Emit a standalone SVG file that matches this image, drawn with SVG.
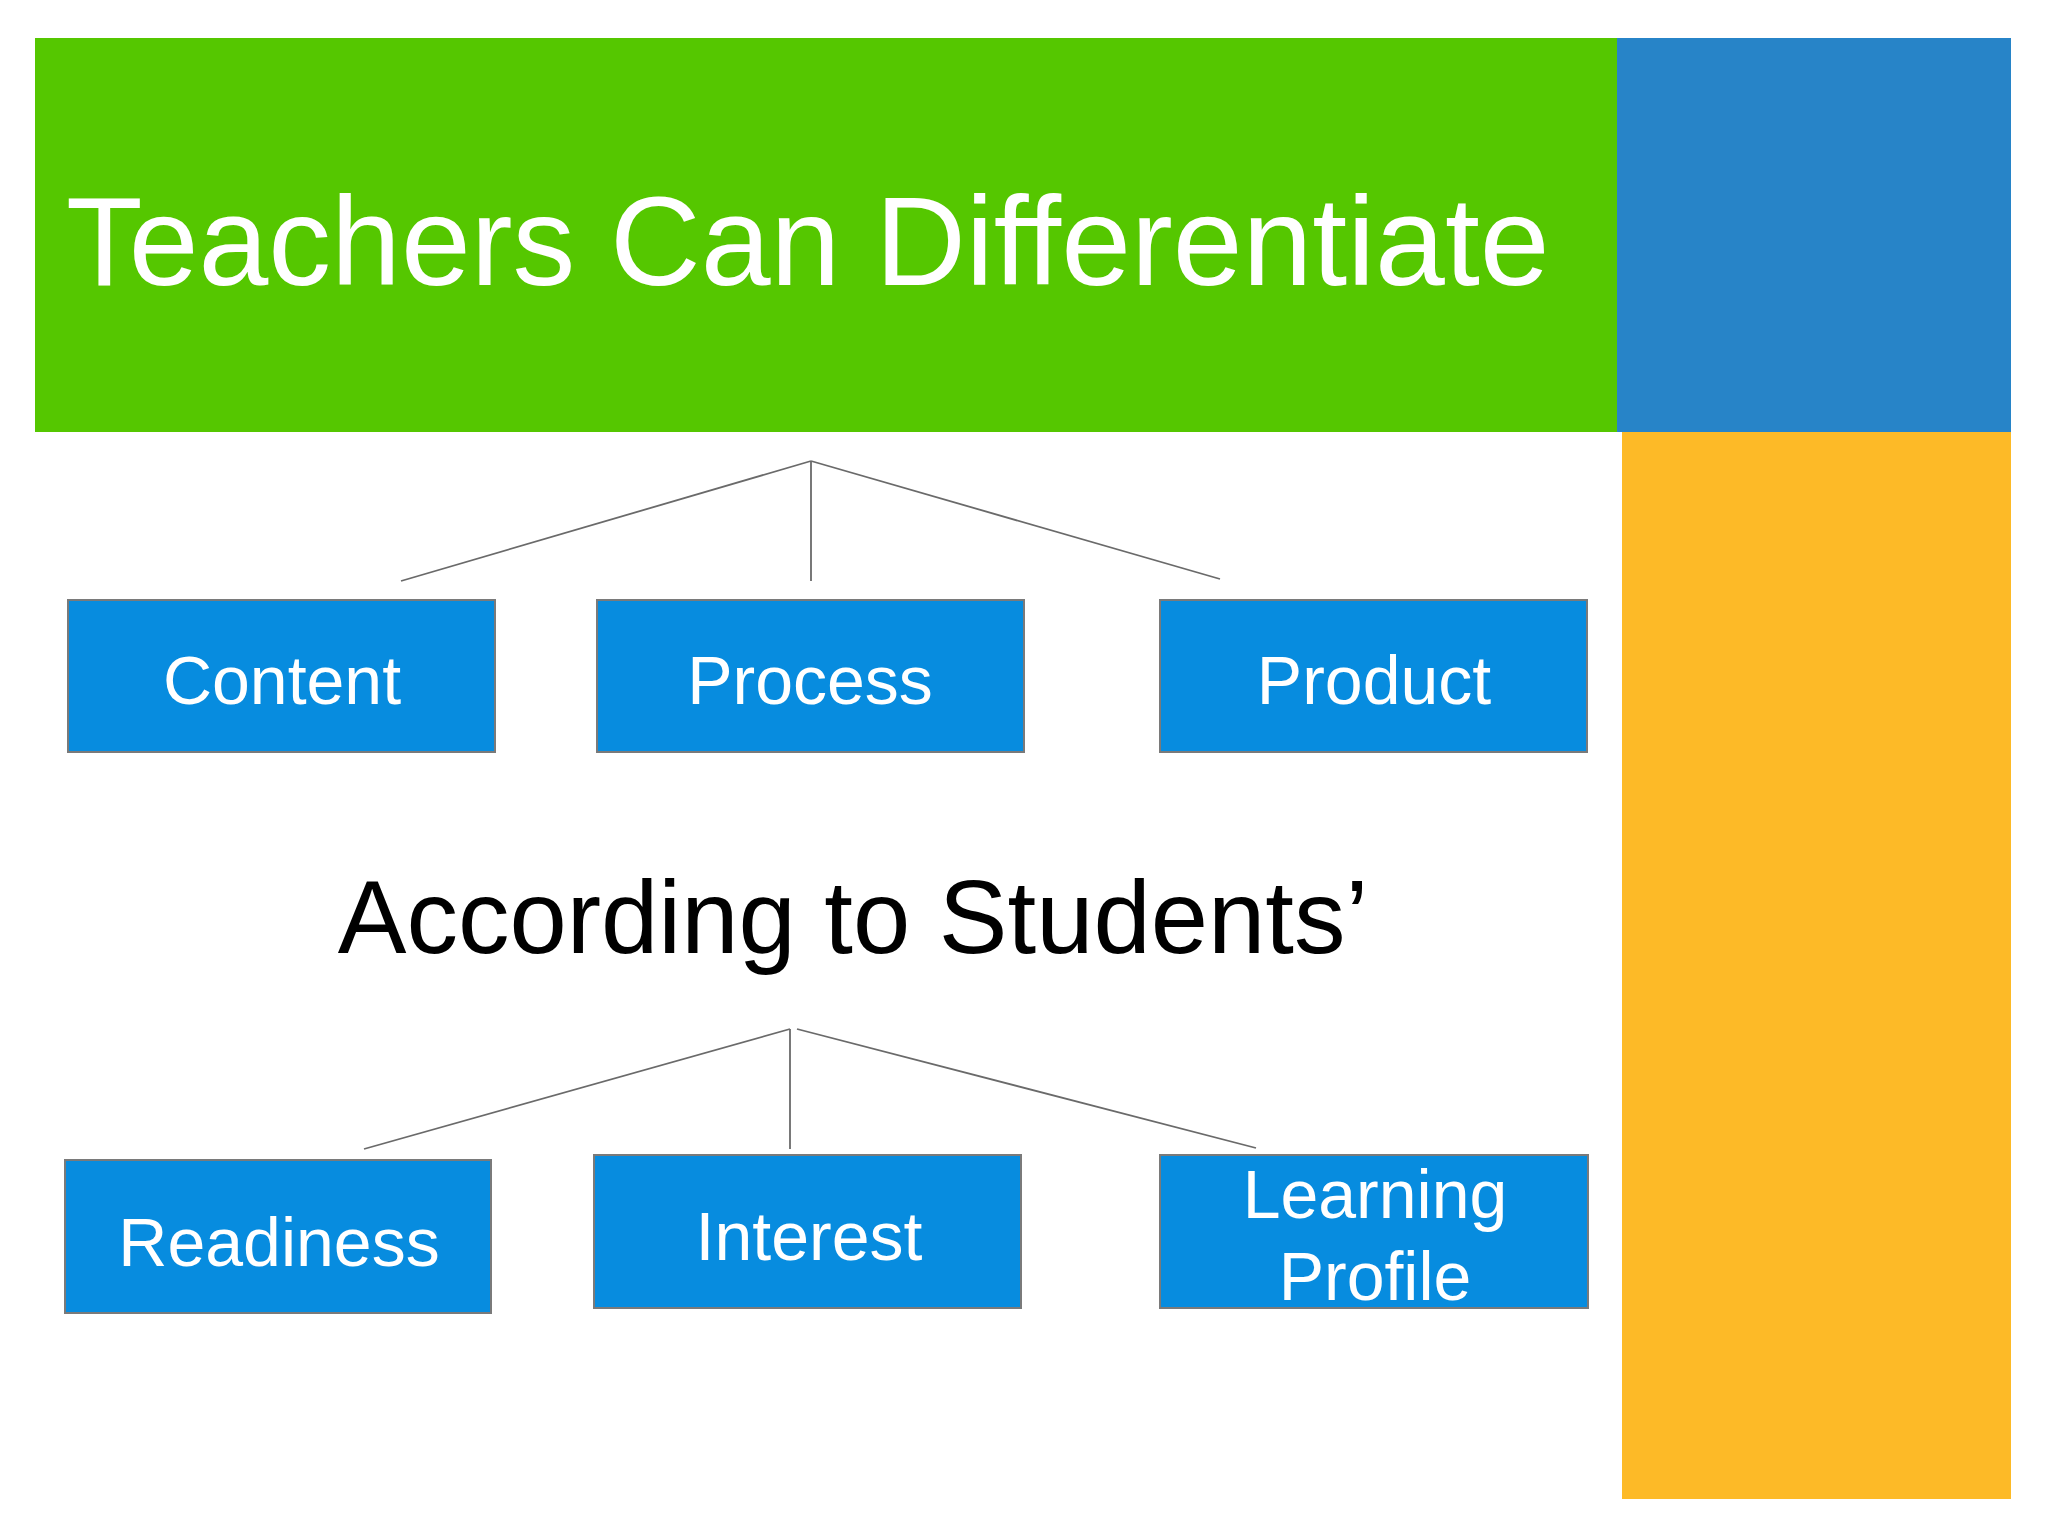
<svg xmlns="http://www.w3.org/2000/svg" width="2048" height="1536" viewBox="0 0 2048 1536">
<style>
.box{fill:#078CDF;stroke:#7A7A7A;stroke-width:2}
.lbl{font-family:"Liberation Sans",Arial,sans-serif;font-size:68px;fill:#FFFFFF;text-anchor:middle}
.con{stroke:#6A6A6A;stroke-width:1.8;fill:none}
</style>
<rect x="0" y="0" width="2048" height="1536" fill="#FFFFFF"/>
<g id="header">
<rect x="35" y="38" width="1582" height="394" fill="#55C700"/>
<rect x="1617" y="38" width="394" height="394" fill="#2784C8"/>
<rect x="1622" y="432" width="389" height="1067" fill="#FDBA27"/>
<text x="66" y="285" font-family="Liberation Sans, Arial, sans-serif" font-size="125.5" fill="#FFFFFF">Teachers Can Differentiate</text>
</g>
<g id="connectors">
<line class="con" x1="811" y1="461" x2="401" y2="581"/>
<line class="con" x1="811" y1="461" x2="811" y2="581"/>
<line class="con" x1="811" y1="461" x2="1220" y2="579"/>
<line class="con" x1="790" y1="1029" x2="364" y2="1149"/>
<line class="con" x1="790" y1="1029" x2="790" y2="1149"/>
<line class="con" x1="797" y1="1029" x2="1256" y2="1148"/>
</g>
<g id="content"><rect class="box" x="68" y="600" width="427" height="152"/><text class="lbl" x="282" y="704">Content</text></g>
<g id="process"><rect class="box" x="597" y="600" width="427" height="152"/><text class="lbl" x="810" y="704">Process</text></g>
<g id="product"><rect class="box" x="1160" y="600" width="427" height="152"/><text class="lbl" x="1374" y="704">Product</text></g>
<g id="according"><text x="853" y="953" font-family="Liberation Sans, Arial, sans-serif" font-size="103" fill="#000000" text-anchor="middle">According to Students’</text></g>
<g id="readiness"><rect class="box" x="65" y="1160" width="426" height="153"/><text class="lbl" x="279" y="1266">Readiness</text></g>
<g id="interest"><rect class="box" x="594" y="1155" width="427" height="153"/><text class="lbl" x="809" y="1260">Interest</text></g>
<g id="learning-profile"><rect class="box" x="1160" y="1155" width="428" height="153"/><text class="lbl" x="1375" y="1218">Learning</text><text class="lbl" x="1375" y="1300">Profile</text></g>
</svg>
